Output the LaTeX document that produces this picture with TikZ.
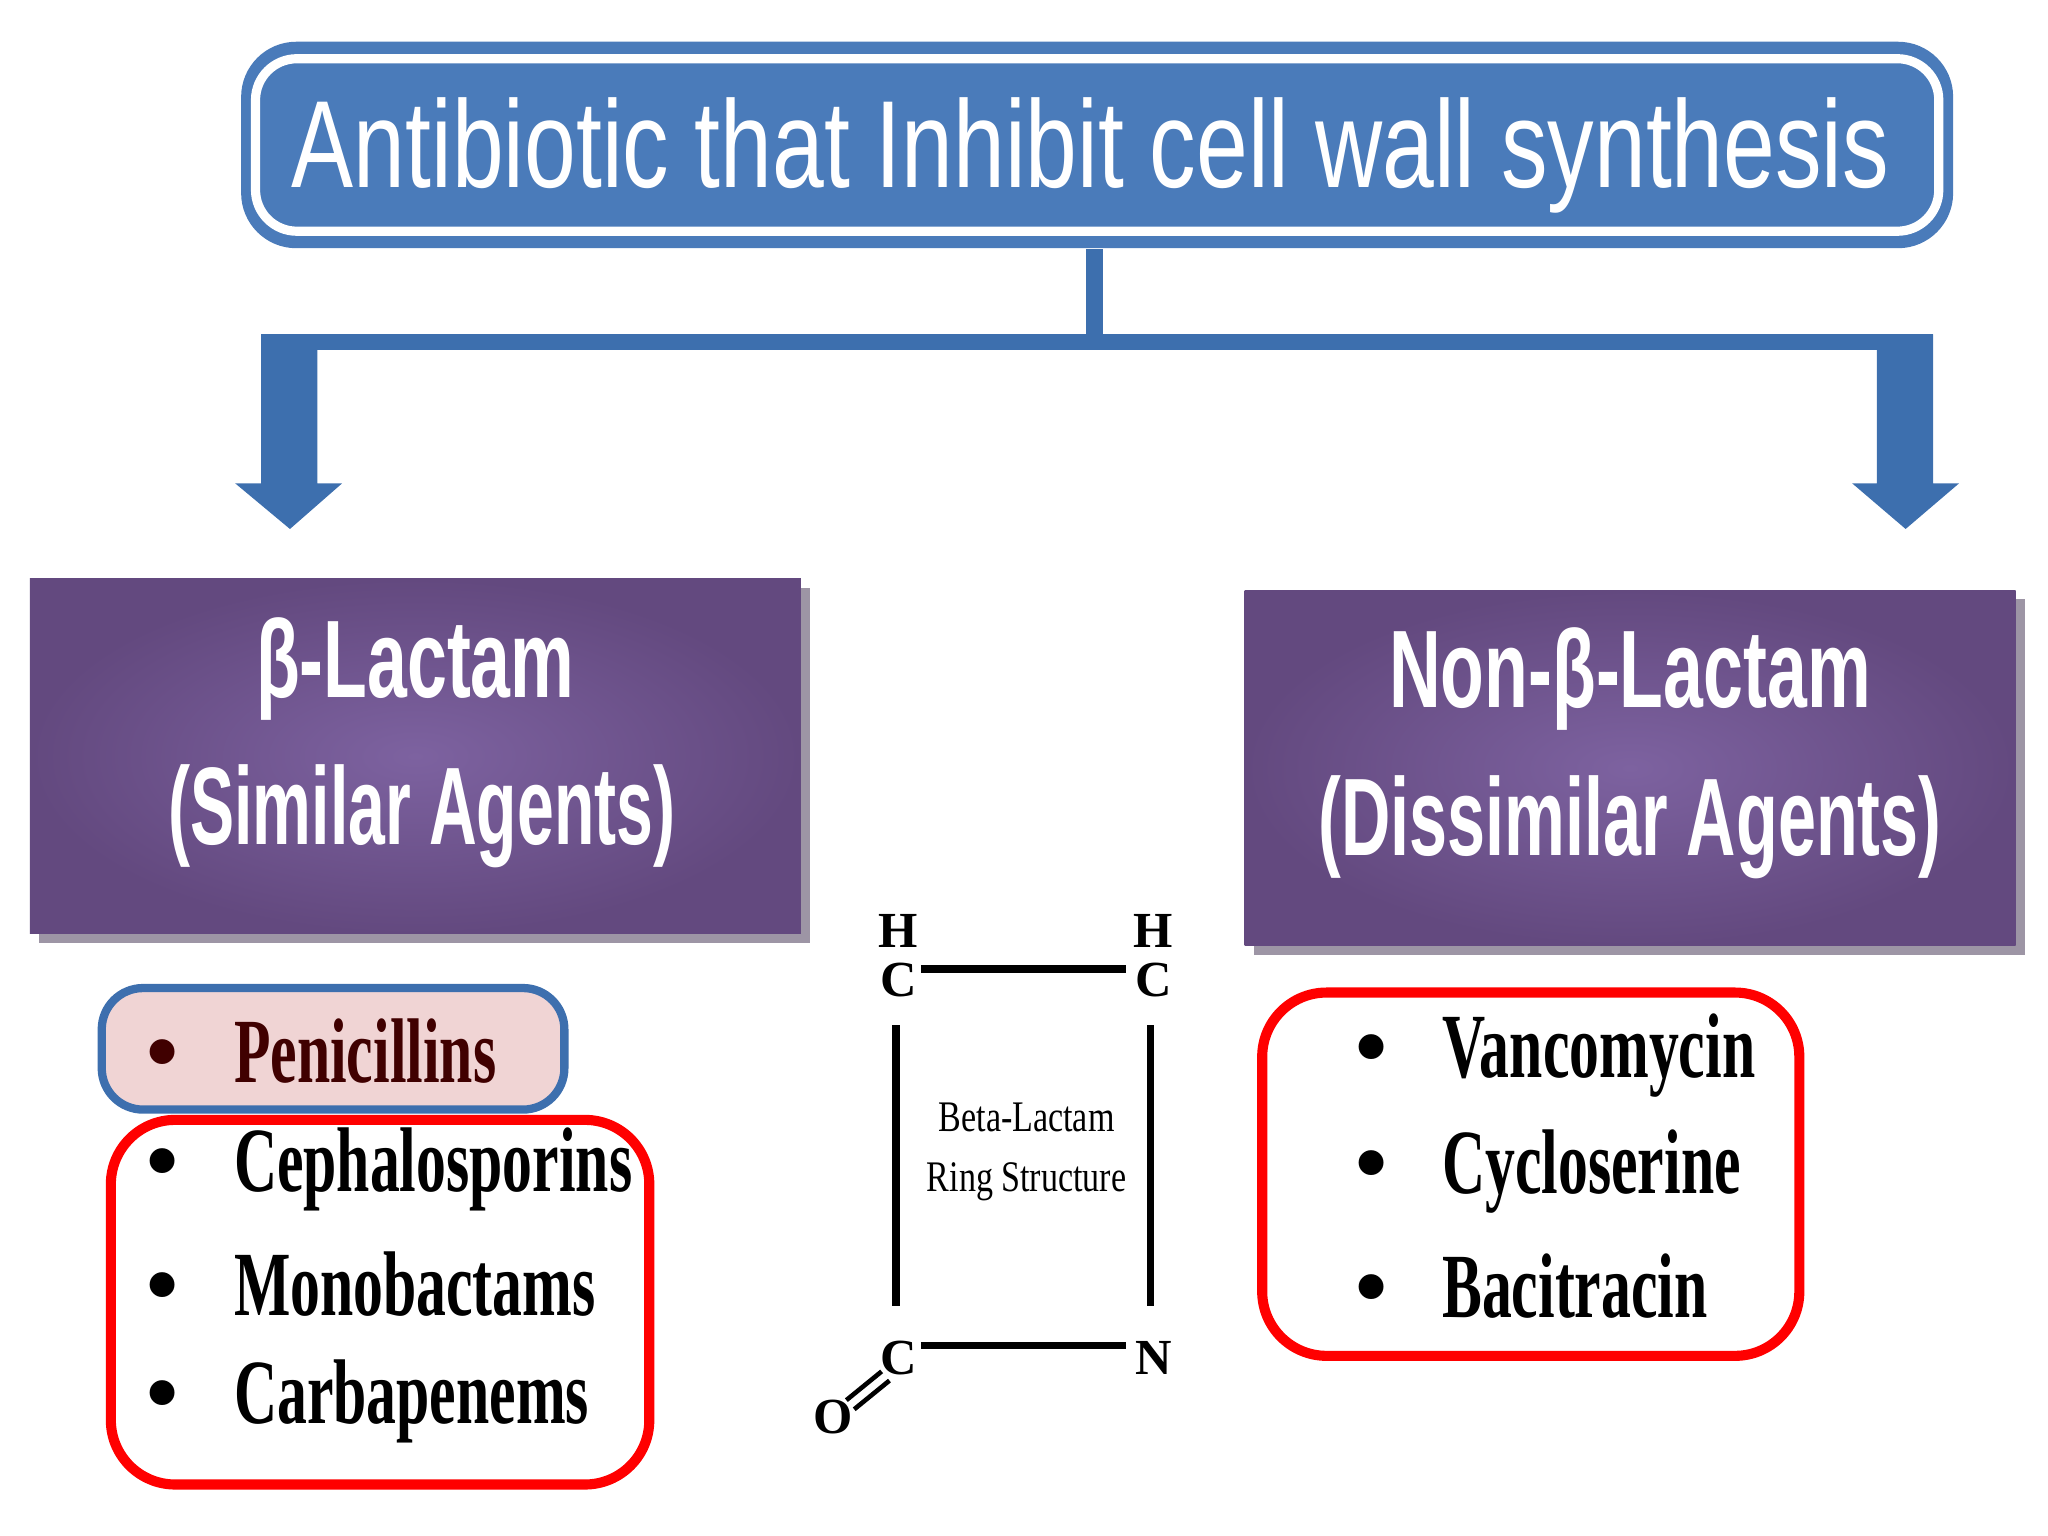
\documentclass[tikz,border=0pt]{standalone}
\usepackage{fontspec}
\setmainfont{Liberation Serif}
\newfontfamily\sansf{Liberation Sans}
\usetikzlibrary{shadows}
\definecolor{tblue}{HTML}{4A7BBA}
\definecolor{dblue}{HTML}{3D6FAE}
\definecolor{purp}{HTML}{63497F}
\definecolor{purpl}{HTML}{7D62A0}
\definecolor{pinkf}{HTML}{F0D4D4}
\begin{document}
\begin{tikzpicture}[x=0.01cm,y=-0.01cm,
 pbox/.style={draw=none,inner color=purpl,outer color=purp,drop shadow={shadow xshift=2pt,shadow yshift=-2pt,fill=purp!60!black}},
 ptxt/.style={text=white,font=\sansf\bfseries\fontsize{24}{30}\selectfont,align=center},
 item/.style={anchor=west,font=\bfseries\fontsize{20}{24}\selectfont},
 redbox/.style={draw=red,line width=2.2pt,rounded corners=14pt},
 atom/.style={font=\fontsize{11}{12}\selectfont,inner sep=0pt},
 bond/.style={line width=1.6pt}]
\useasboundingbox (0,0) rectangle (1568,1176);
% title
\node[draw=none,fill=tblue,rounded corners=12pt,minimum width=13.1cm,minimum height=1.58cm,inner sep=0] (tout) at (840,111) {};
\node[draw=white,line width=2pt,fill=tblue,rounded corners=9pt,minimum width=12.88cm,minimum height=1.32cm,inner sep=0] (title) at (840,111) {};
\node[text=white,font=\sansf\fontsize{27}{30}\selectfont] (tt) at (835,119) {\scalebox{0.75}[1]{Antibiotic that Inhibit cell wall synthesis}};
% connectors
\coordinate (j) at (838,262);
\draw[dblue,line width=3.5pt] (tout.south -| j) -- (j);
\fill[dblue] (200,256) rectangle (1480,268);
\fill[dblue] (200,256) -- (243,256) -- (243,370) -- (262,370) -- (222,405) -- (180,370) -- (200,370) -- cycle;
\fill[dblue] (1437,256) -- (1480,256) -- (1480,370) -- (1500,370) -- (1459,405) -- (1418,370) -- (1437,370) -- cycle;
% purple boxes
\node[pbox,minimum width=5.9cm,minimum height=2.72cm,inner sep=0] (bl) at (318,579) {};
\node[ptxt] at (318,512) {\scalebox{0.65}[1]{β-Lactam}};
\node[ptxt] at (323,625) {\scalebox{0.6}[1]{(Similar Agents)}};
\node[pbox,minimum width=5.9cm,minimum height=2.72cm,inner sep=0] (nb) at (1248,588) {};
\node[ptxt] at (1248,520) {\scalebox{0.65}[1]{Non-β-Lactam}};
\node[ptxt] at (1248,633) {\scalebox{0.62}[1]{(Dissimilar Agents)}};
% left items
\node[draw=dblue,line width=1.8pt,fill=pinkf,rounded corners=9pt,minimum width=3.54cm,minimum height=0.93cm,inner sep=0] (pen) at (255,803) {};
\node[redbox,minimum width=4.12cm,minimum height=2.79cm,inner sep=0] (rl) at (291,997) {};
\node[item,text=black!75!red] (i1) at (100,805) {•\hspace{0.6em}\scalebox{0.65}[1]{Penicillins}};
\node[item] (i2) at (100,895) {•\hspace{0.6em}\scalebox{0.65}[1]{Cephalosporins}};
\node[item] (i3) at (100,983) {•\hspace{0.6em}\scalebox{0.65}[1]{Monobactams}};
\node[item] (i4) at (100,1073) {•\hspace{0.6em}\scalebox{0.65}[1]{Carbapenems}};
% right items
\node[redbox,minimum width=4.11cm,minimum height=2.78cm,inner sep=0] (rr) at (1172,899) {};
\node[item] (j1) at (1025,808) {•\hspace{0.6em}\scalebox{0.65}[1]{Vancomycin}};
\node[item] (j2) at (1025,897) {•\hspace{0.6em}\scalebox{0.65}[1]{Cycloserine}};
\node[item] (j3) at (1025,985) {•\hspace{0.6em}\scalebox{0.65}[1]{Bacitracin}};
% ring
\node[atom] (h1) at (688,713) {\textbf{H}};
\node[atom] (c1) at (688,750) {\textbf{C}};
\node[atom] (h2) at (883,713) {\textbf{H}};
\node[atom] (c2) at (883,750) {\textbf{C}};
\node[atom] (c3) at (688,1040) {\textbf{C}};
\node[atom] (n) at (883,1040) {\textbf{N}};
\node[atom] (o) at (638,1085) {\textbf{O}};
\draw[bond] (705,742) -- (862,742);
\draw[bond] (705,1030) -- (862,1030);
\draw[bond] (686,785) -- (686,1000);
\draw[bond] (881,785) -- (881,1000);
\draw[line width=1pt] (675,1050) -- (648,1072);
\draw[line width=1pt] (681,1057) -- (654,1079);
\node[font=\fontsize{9.5}{13}\selectfont,align=center] (rt) at (786,882) {\scalebox{0.78}[1]{Beta-Lactam}\\\scalebox{0.78}[1]{Ring Structure}};
\end{tikzpicture}
\end{document}
